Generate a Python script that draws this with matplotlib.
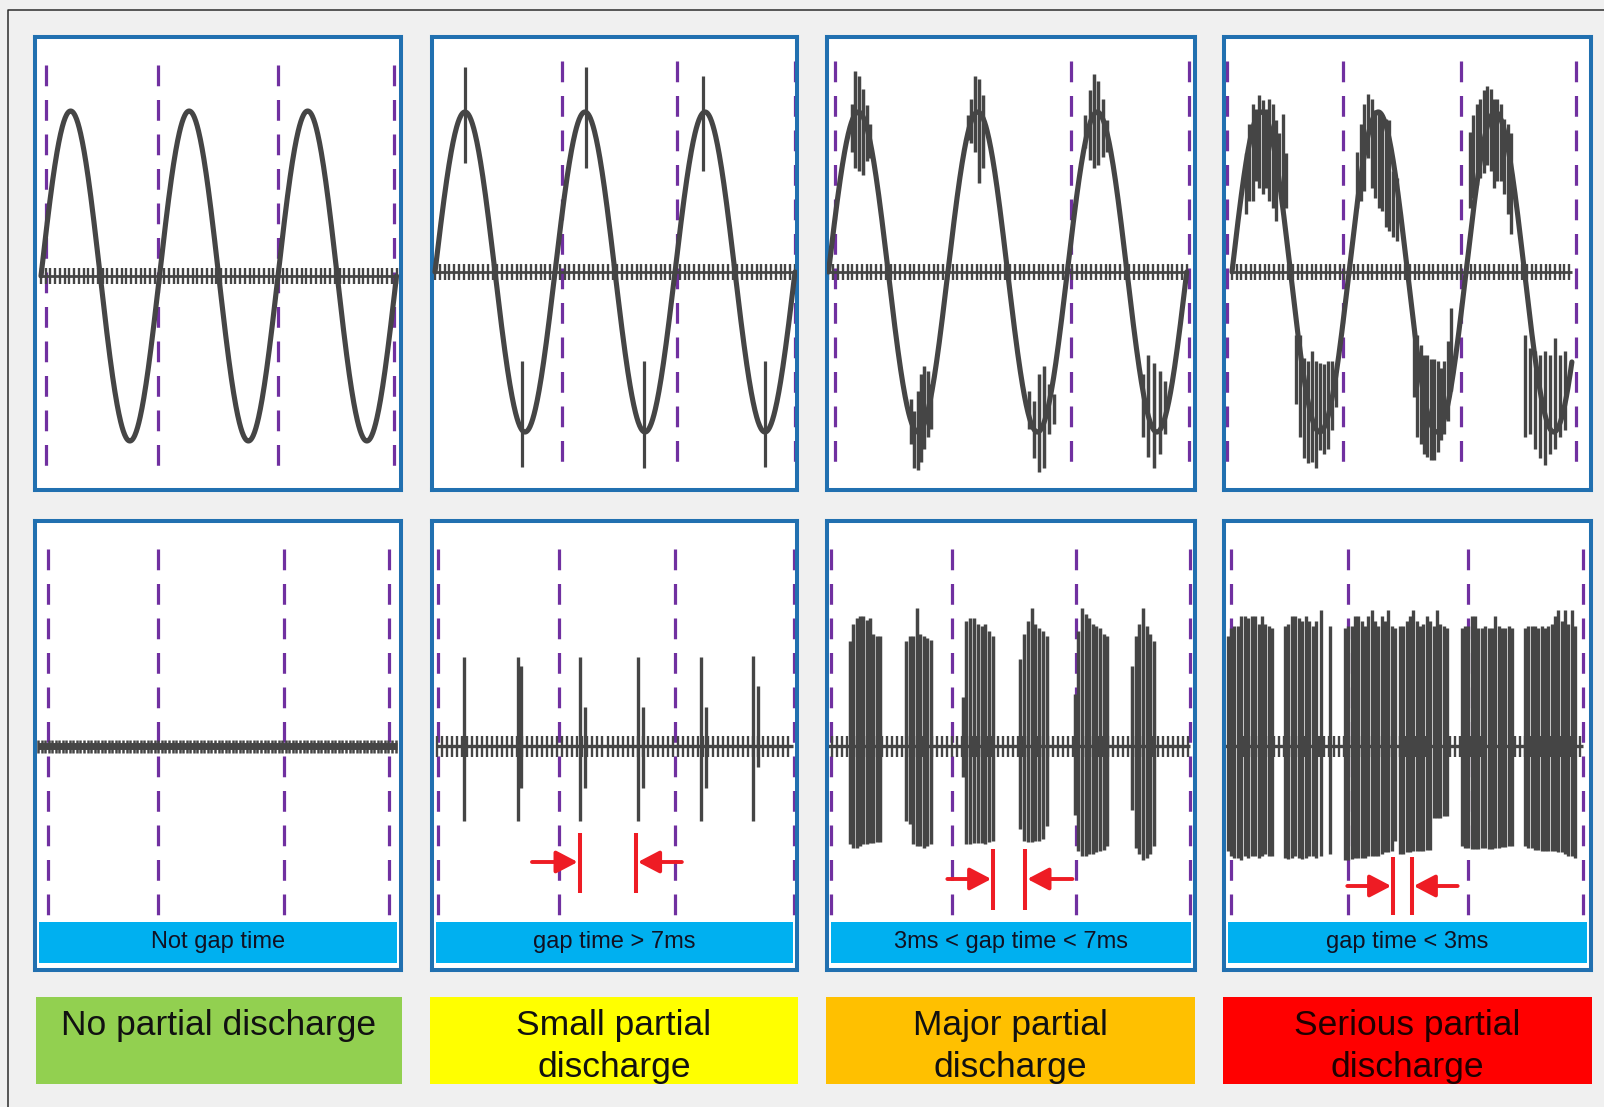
import numpy as np
import matplotlib
matplotlib.use("Agg")
import matplotlib.pyplot as plt
from matplotlib.patches import Rectangle

plt.rcParams['font.family'] = ['Liberation Sans', 'DejaVu Sans']

# ------------------------------------------------------------------ data
level_lines = [["No partial discharge"], ["Small partial", "discharge"],
               ["Major partial", "discharge"], ["Serious partial", "discharge"]]
gap_labels = ["Not gap time", "gap time > 7ms", "3ms < gap time < 7ms", "gap time < 3ms"]
level_colors = ["#92d050", "#ffff00", "#ffc000", "#ff0000"]

# supply voltage waveform (top row), time in ms, amplitude in p.u.
cycle_ms = 20.0
sine_amp = [1.0, 0.97, 0.97, 0.97]
sine_start_ms = [0.0, 0.0, 0.0, 0.0]
sine_end_ms = [60.0, 60.0, 60.0, 58.1]
top_dash_ms = [[0.84, 19.8, 40.0, 59.6], [21.2, 40.3, 60.0],
               [1.1, 40.6, 60.4], [-0.85, 18.97, 39.15, 58.8]]

# small PD: single spikes on the sine
small_spike_ms = [5.0, 14.5, 25.2, 34.9, 44.7, 55.0]
small_spike_top = [1.24, -0.54, 1.24, -0.54, 1.19, -0.54]
small_spike_bottom = [0.66, -1.18, 0.63, -1.19, 0.61, -1.18]

# major PD: pulse bursts on the sine (each burst: start, end, pulse tops/bottoms)
major_top_start = [3.9, 13.8, 23.3, 33.6, 43.0, 52.6]
major_top_end = [7.0, 17.2, 25.9, 37.8, 46.7, 56.4]
major_top_hi = [[1.02, 1.22, 1.19, 1.11, 1.01, 0.90],
                [-0.77, -0.84, -0.72, -0.62, -0.57, -0.60, -0.68],
                [0.95, 1.05, 1.19, 1.17, 1.07],
                [-0.72, -0.78, -0.62, -0.57, -0.68, -0.74],
                [0.95, 1.10, 1.20, 1.16, 1.05, 0.92],
                [-0.62, -0.50, -0.55, -0.60, -0.66]]
major_top_lo = [[0.73, 0.63, 0.61, 0.59, 0.67, 0.69],
                [-1.04, -1.19, -1.20, -1.15, -1.07, -1.00, -0.95],
                [0.80, 0.78, 0.73, 0.54, 0.63],
                [-0.95, -1.13, -1.21, -1.19, -0.98, -0.92],
                [0.75, 0.68, 0.63, 0.65, 0.70, 0.73],
                [-1.00, -1.12, -1.19, -1.10, -0.98]]

# serious PD: dense pulse clouds on the sine
serious_top_start = [2.39, 10.92, 21.4, 31.1, 40.67, 50.05]
serious_top_end = [9.23, 17.78, 28.15, 37.44, 47.73, 56.9]
serious_top_hi = [
    [0.72, 0.90, 1.02, 0.99, 1.07, 1.04, 0.99, 1.05, 1.02, 0.92, 0.84, 0.96, 0.72],
    [-0.38, -0.38, -0.52, -0.54, -0.48, -0.54, -0.55, -0.56, -0.54, -0.54, -0.62],
    [0.73, 0.90, 1.02, 1.08, 1.05, 0.98, 0.96, 0.95, 0.93, 0.92, 0.61, 0.57],
    [-0.34, -0.38, -0.44, -0.50, -0.50, -0.53, -0.53, -0.54, -0.58, -0.54, -0.42, -0.22],
    [0.85, 0.95, 1.02, 1.05, 1.10, 1.13, 1.11, 1.05, 1.05, 1.02, 0.93, 0.90, 0.84],
    [-0.38, -0.46, -0.48, -0.50, -0.48, -0.50, -0.40, -0.50, -0.48]]
serious_top_lo = [
    [0.35, 0.43, 0.43, 0.55, 0.51, 0.47, 0.51, 0.43, 0.39, 0.31, 0.49, 0.35, 0.39],
    [-0.80, -1.00, -1.13, -1.16, -1.15, -1.19, -1.08, -1.10, -1.07, -0.96, -0.82],
    [0.39, 0.43, 0.49, 0.69, 0.51, 0.45, 0.39, 0.37, 0.27, 0.25, 0.21, 0.19],
    [-0.76, -1.00, -1.04, -1.10, -1.12, -1.14, -1.14, -1.09, -1.02, -0.98, -0.90, -0.72],
    [0.39, 0.45, 0.53, 0.57, 0.60, 0.65, 0.61, 0.51, 0.55, 0.55, 0.47, 0.35, 0.23],
    [-1.00, -0.98, -1.07, -1.13, -1.17, -1.10, -1.07, -1.00, -0.96]]

# PD pulse trains (bottom row), time in ms, amplitude in arbitrary units
bottom_dash_ms = [[1.7, 20.4, 41.7, 59.5], [0.2, 20.6, 40.3, 60.5],
                  [0.7, 21.2, 42.2, 61.5], [1.2, 21.1, 41.3, 60.8]]
baseline_end_ms = [60.8, 60.3, 61.5, 60.8]

small_pulse_ms = [4.6, 13.7, 14.2, 24.2, 25.1, 34.1, 34.9, 44.7, 45.6, 53.6, 54.4]
small_pulse_top = [0.89, 0.89, 0.80, 0.89, 0.39, 0.89, 0.39, 0.89, 0.39, 0.90, 0.60]
small_pulse_bottom = [-0.75, -0.75, -0.42, -0.75, -0.42, -0.75, -0.42, -0.75, -0.42, -0.75, -0.21]

major_bot_start = [3.9, 13.4, 23.0, 32.7, 42.0, 51.7]
major_bot_end = [9.0, 17.6, 28.1, 37.3, 47.5, 55.4]
major_bot_hi = [[1.05, 1.22, 1.28, 1.30, 1.30, 1.26, 1.28, 1.12, 1.10, 1.10],
                [1.05, 1.10, 1.10, 1.38, 1.12, 1.10, 1.08, 1.06],
                [0.49, 1.25, 1.28, 1.28, 1.22, 1.20, 1.22, 1.15, 1.10],
                [0.87, 1.12, 1.25, 1.38, 1.22, 1.18, 1.15, 1.10],
                [0.52, 1.15, 1.38, 1.32, 1.28, 1.22, 1.20, 1.18, 1.12, 1.10],
                [0.80, 1.10, 1.22, 1.38, 1.20, 1.12, 1.05]]
major_bot_lo = [[-0.98, -1.02, -1.02, -1.00, -0.98, -0.98, -0.97, -0.97, -0.96, -0.96],
                [-0.75, -0.78, -0.98, -1.00, -1.00, -1.02, -1.00, -0.98],
                [-0.31, -0.98, -0.98, -0.97, -0.97, -0.97, -0.98, -0.96, -0.95],
                [-0.83, -0.95, -0.96, -0.96, -0.95, -0.95, -0.93, -0.80],
                [-0.69, -1.05, -1.10, -1.10, -1.08, -1.08, -1.06, -1.05, -1.04, -1.00],
                [-0.64, -1.02, -1.08, -1.14, -1.12, -1.08, -1.00]]

serious_bot_start = [0.6, 10.3, 15.6, 16.5, 17.9, 20.5, 29.8, 40.3, 51.0]
serious_bot_end = [8.2, 15.0, 15.6, 16.5, 17.9, 29.0, 37.8, 48.8, 59.5]
serious_bot_hi = [
    [1.10, 1.18, 1.20, 1.20, 1.30, 1.30, 1.28, 1.30, 1.30, 1.22, 1.30, 1.22, 1.20, 1.18],
    [1.20, 1.22, 1.30, 1.30, 1.28, 1.25, 1.30, 1.25, 1.20],
    [1.25], [1.36], [1.20],
    [1.18, 1.20, 1.20, 1.30, 1.30, 1.25, 1.20, 1.30, 1.36, 1.25, 1.20, 1.30, 1.25, 1.36, 1.20, 1.18],
    [1.20, 1.20, 1.25, 1.30, 1.36, 1.25, 1.20, 1.22, 1.30, 1.25, 1.20, 1.36, 1.22, 1.20, 1.18],
    [1.18, 1.20, 1.20, 1.30, 1.30, 1.18, 1.18, 1.20, 1.18, 1.18, 1.30, 1.20, 1.18, 1.18, 1.20, 1.18],
    [1.18, 1.20, 1.20, 1.20, 1.18, 1.20, 1.18, 1.20, 1.22, 1.30, 1.36, 1.25, 1.36, 1.22, 1.36, 1.20]]
serious_bot_lo = [
    [-1.05, -1.10, -1.12, -1.12, -1.14, -1.10, -1.12, -1.10, -1.10, -1.12, -1.10, -1.08, -1.10, -1.10],
    [-1.12, -1.13, -1.12, -1.10, -1.12, -1.13, -1.12, -1.10, -1.10],
    [-1.12], [-1.10], [-1.08],
    [-1.14, -1.14, -1.13, -1.12, -1.12, -1.12, -1.12, -1.10, -1.10, -1.10, -1.10, -1.08, -1.06, -1.06, -1.05, -0.95],
    [-1.08, -1.08, -1.06, -1.06, -1.05, -1.05, -1.05, -1.05, -1.04, -1.04, -0.72, -0.72, -0.72, -0.70, -0.70],
    [-1.00, -1.02, -1.02, -1.03, -1.03, -1.03, -1.02, -1.02, -1.03, -1.03, -1.02, -1.02, -1.01, -1.01, -1.00, -1.00],
    [-1.00, -1.02, -1.02, -1.04, -1.04, -1.05, -1.05, -1.05, -1.05, -1.05, -1.06, -1.06, -1.08, -1.10, -1.10, -1.12]]

# gap-time markers (bottom row, panels 2-4)
gap_bar_left = [None, 24.2, 28.2, 28.7]
gap_bar_right = [None, 33.7, 33.6, 31.8]
gap_bar_span = [None, (-0.87, -1.47), (-1.03, -1.64), (-1.11, -1.69)]
gap_arrow_y = [None, -1.16, -1.33, -1.40]
gap_arrow_left_tail = [None, 16.1, 20.4, 20.9]
gap_arrow_right_tail = [None, 41.5, 41.6, 39.6]

# ------------------------------------------------------------------ style / layout
W, H = 1604, 1107
SIG = "#454545"
BOX = "#2170b0"
DASH = "#7030a0"
RED = "#ee1c24"
CYAN = "#00b0f0"

col_left = [35, 432, 827, 1224]
col_right = [401, 797, 1195, 1591]
top_row = (37, 490)
bot_row = (521, 970)
top_origin_px = [41, 435, 828.5, 1232]
top_px_per_ms = [5.925, 6.0, 5.97, 5.85]
top_zero_px = [276, 272, 272, 272]
top_unit_px = 165
bot_origin_px = [38, 437, 827, 1224]
bot_px_per_ms = 5.9
bot_zero_px, bot_unit_px = 746, 100

fig = plt.figure(figsize=(W / 100, H / 100), dpi=100, facecolor="#f0f0f0")
bg = fig.add_axes([0, 0, 1, 1], zorder=0)
bg.set_xlim(0, W)
bg.set_ylim(H, 0)
bg.axis("off")

# outer frame (left and top edges visible)
bg.plot([8, 8, W + 10], [H + 10, 10, 10], color="#2b2b2b", lw=1.1, clip_on=False)


def px_axes(l, t, r, b):
    ax = fig.add_axes([l / W, 1 - b / H, (r - l) / W, (b - t) / H], zorder=1)
    ax.set_facecolor("white")
    ax.set_xticks([])
    ax.set_yticks([])
    for s in ax.spines.values():
        s.set_color(BOX)
        s.set_linewidth(2.9)
    return ax


def dashed(ax, xs, ytop, ybot):
    for x in xs:
        ax.plot([x, x], [ytop, ybot], color=DASH, lw=2.3,
                linestyle=(0, (6.5, 4.3)), dash_capstyle="butt", zorder=1)


def comb(ax, t0, t1, step, half, lw_line, lw_tick):
    ax.plot([t0, t1], [0, 0], color=SIG, lw=lw_line, zorder=2, solid_capstyle="butt")
    tt = np.arange(t0, t1 + 1e-9, step)
    ax.vlines(tt, -half, half, color=SIG, lw=lw_tick, zorder=2)


def bursts(ax, starts, ends, his, los, lw):
    for s, e, hi, lo in zip(starts, ends, his, los):
        tt = np.linspace(s, e, len(hi))
        ax.vlines(tt, lo, hi, color=SIG, lw=lw, zorder=3)


for i in range(4):
    # ---------------- top row: supply voltage with PD
    l, r = col_left[i], col_right[i]
    t, b = top_row
    ax = px_axes(l, t, r, b)
    o, k = top_origin_px[i], top_px_per_ms[i]
    z = top_zero_px[i]
    ax.set_xlim((l - o) / k, (r - o) / k)
    ax.set_ylim((z - b) / top_unit_px, (z - t) / top_unit_px)
    dashed(ax, top_dash_ms[i], 1.28, -1.20)
    comb(ax, sine_start_ms[i], sine_end_ms[i], 0.8, 0.05, 2.0, 1.7)
    ts = np.linspace(sine_start_ms[i], sine_end_ms[i], 800)
    ax.plot(ts, sine_amp[i] * np.sin(2 * np.pi * ts / cycle_ms), color=SIG, lw=3.7,
            solid_capstyle="round", zorder=4)
    if i == 1:
        ax.vlines(small_spike_ms, small_spike_bottom, small_spike_top, color=SIG, lw=2.3, zorder=3)
    elif i == 2:
        bursts(ax, major_top_start, major_top_end, major_top_hi, major_top_lo, 2.5)
    elif i == 3:
        bursts(ax, serious_top_start, serious_top_end, serious_top_hi, serious_top_lo, 2.4)

    # ---------------- bottom row: PD pulse trains
    t, b = bot_row
    ax = px_axes(l, t, r, b)
    o = bot_origin_px[i]
    ax.set_xlim((l - o) / bot_px_per_ms, (r - o) / bot_px_per_ms)
    ax.set_ylim((bot_zero_px - b) / bot_unit_px, (bot_zero_px - t) / bot_unit_px)
    dashed(ax, bottom_dash_ms[i], 1.97, -1.80)
    if i == 0:
        comb(ax, 0, baseline_end_ms[i], 0.6, 0.065, 5.0, 1.8)
    else:
        comb(ax, 0, baseline_end_ms[i], 0.85, 0.105, 2.4, 1.7)
    if i == 1:
        ax.vlines(small_pulse_ms, small_pulse_bottom, small_pulse_top, color=SIG, lw=2.4, zorder=3)
    elif i == 2:
        bursts(ax, major_bot_start, major_bot_end, major_bot_hi, major_bot_lo, 2.5)
    elif i == 3:
        bursts(ax, serious_bot_start, serious_bot_end, serious_bot_hi, serious_bot_lo, 2.4)

    if gap_bar_left[i] is not None:
        lo, hi = gap_bar_span[i]
        ax.vlines([gap_bar_left[i], gap_bar_right[i]], hi, lo, color=RED, lw=2.9, zorder=5)
        ay = gap_arrow_y[i]
        aprops = dict(arrowstyle="-|>,head_length=0.65,head_width=0.34", color=RED,
                      lw=2.8, mutation_scale=20, shrinkA=0, shrinkB=0)
        ax.annotate("", xy=(gap_bar_left[i] - 0.35, ay), xytext=(gap_arrow_left_tail[i], ay),
                    arrowprops=aprops, zorder=5)
        ax.annotate("", xy=(gap_bar_right[i] + 0.35, ay), xytext=(gap_arrow_right_tail[i], ay),
                    arrowprops=aprops, zorder=5)

    # cyan gap-time band
    ax.add_patch(Rectangle((4 / 366, 0.0156), 1 - 8 / 366, 0.092, transform=ax.transAxes,
                           facecolor=CYAN, edgecolor="none", zorder=6))
    ax.text(0.5, 0.062, gap_labels[i], transform=ax.transAxes, ha="center", va="center",
            fontsize=17, color="#111122", zorder=7)

# ---------------- severity labels
lab_left = [36, 430, 826, 1223]
lab_width = [366, 368, 369, 369]
for i in range(4):
    bg.add_patch(Rectangle((lab_left[i], 997), lab_width[i], 87, facecolor=level_colors[i],
                           edgecolor="none"))
    cx = lab_left[i] + lab_width[i] / 2
    tcol = "#200000" if i == 3 else "#111111"
    for j, line in enumerate(level_lines[i]):
        bg.text(cx, 1035 + 42 * j, line, ha="center", va="baseline", fontsize=25.5, color=tcol)

fig.savefig("out.png", dpi=100, facecolor=fig.get_facecolor())
